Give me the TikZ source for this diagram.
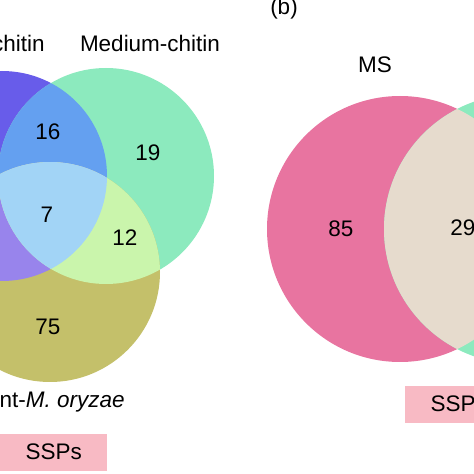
\documentclass[tikz,border=0pt]{standalone}
\usepackage{fontspec}
\setmainfont{Liberation Sans}
\usetikzlibrary{positioning}

\definecolor{setA}{RGB}{104,92,234}
\definecolor{setB}{RGB}{140,234,190}
\definecolor{setC}{RGB}{196,192,106}
\definecolor{setAB}{RGB}{100,160,240}
\definecolor{setAC}{RGB}{152,132,236}
\definecolor{setBC}{RGB}{202,245,172}
\definecolor{setABC}{RGB}{162,212,246}
\definecolor{msPink}{RGB}{232,116,160}
\definecolor{msBeige}{RGB}{230,219,205}
\definecolor{sspPink}{RGB}{248,186,196}

\begin{document}
\begin{tikzpicture}[
                    x=0.02cm, y=0.02cm,
                    setlabel/.style={font=\fontsize{12.8}{15}\selectfont, inner sep=0pt},
                    count/.style={font=\fontsize{12.8}{15}\selectfont, inner sep=0pt},
                    sspbox/.style={fill=sspPink, minimum width=2.14cm, minimum height=0.74cm, inner sep=0pt, font=\fontsize{12.8}{15}\selectfont}
                ]
                \clip (0,0) rectangle (474,474);

                % Left diagram: three sets
                \coordinate (cA) at (2,298);
                \coordinate (cB) at (106,298);
                \coordinate (cC) at (50,202);
                \fill[setA] (cA) circle (105);
                \fill[setB] (cB) circle (108);
                \fill[setC] (cC) circle (110);
                \begin{scope}
                    \clip (cA) circle (105);
                    \fill[setAB] (cB) circle (108);
                    \fill[setAC] (cC) circle (110);
                \end{scope}
                \begin{scope}
                    \clip (cB) circle (108);
                    \fill[setBC] (cC) circle (110);
                \end{scope}
                \begin{scope}
                    \clip (cA) circle (105);
                    \clip (cB) circle (108);
                    \fill[setABC] (cC) circle (110);
                \end{scope}

                \node[setlabel, anchor=east] (lbl_a) at (45,431) {chitin};
                \node[setlabel] (lbl_b) at (150,431) {Medium-chitin};
                \node[setlabel, anchor=east] (lbl_c) at (125,72) {nt-\textit{M. oryzae}};

                \node[count] (n_ab) at (48,342) {16};
                \node[count] (n_b) at (148,321) {19};
                \node[count] (n_abc) at (47,259) {7};
                \node[count] (n_bc) at (125,236) {12};
                \node[count] (n_c) at (48,147) {75};

                \node[sspbox, anchor=south west] (ssp_a) at (0,3) {SSPs};

                % Right diagram: two sets
                \coordinate (cM) at (400,245);
                \coordinate (cN) at (519,245);
                \fill[msPink] (cM) circle (133);
                \fill[setB] (cN) circle (135);
                \begin{scope}
                    \clip (cM) circle (133);
                    \fill[msBeige] (cN) circle (135);
                \end{scope}

                \node[setlabel] (tag_b) at (284,465) {(b)};
                \node[setlabel] (lbl_ms) at (375,409) {MS};
                \node[count] (n_ms) at (341,245) {85};
                \node[count, anchor=west] (n_both) at (450,246) {29};

                \node[sspbox, anchor=south west] (ssp_b) at (405,51) {SSPs};
            \end{tikzpicture}
\end{document}
